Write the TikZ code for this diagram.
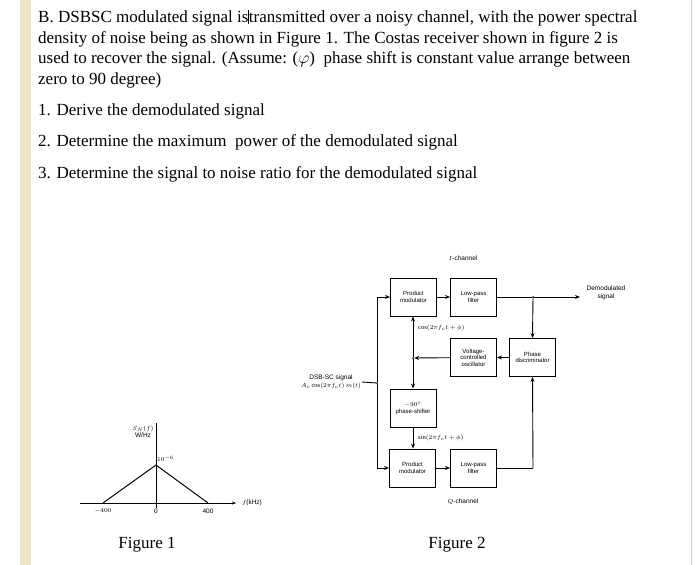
\documentclass[tikz,border=0pt]{standalone}
\usepackage{fontspec}
\setmainfont{Liberation Serif}
\newfontfamily\sfx{Liberation Sans}
\usetikzlibrary{arrows.meta}
\definecolor{beige}{RGB}{240,228,200}
\begin{document}
\begin{tikzpicture}[x=1pt,y=-1pt,
  txt/.style={anchor=west,inner sep=0,font=\fontsize{17}{19}\selectfont},
  blk/.style={draw,line width=0.9pt,minimum width=46pt,minimum height=38pt,align=center,inner sep=1pt,font=\sfx\fontsize{6}{6.5}\selectfont},
  sm/.style={inner sep=1pt,font=\sfx\fontsize{6.5}{7.5}\selectfont,align=center},
  ln/.style={line width=0.9pt},
  arr/.style={ln,-{Stealth[length=5pt,width=4pt]}},
  dot/.style={circle,fill,inner sep=0,minimum size=2pt}]
\useasboundingbox (0,0) rectangle (699,565);
\fill[white] (0,0) rectangle (699,565);
\fill[beige] (20,0) rectangle (31,565);
\draw[gray!40] (691,0) -- (691,565);
% text
\node[txt] (l1) at (38,18) {B. DSBSC modulated signal is\rule[-2pt]{0.6pt}{14pt}transmitted over a noisy channel, with the power spectral};
\node[txt] (l2) at (38,39) {density of noise being as shown in Figure 1. The Costas receiver shown in figure 2 is};
\node[txt] (l3) at (38,59) {used to recover the signal. (Assume: ($\varphi$) \ phase shift is constant value arrange between};
\node[txt] (l4) at (38,80) {zero to 90 degree)};
\node[txt] (q1) at (38,111) {1. Derive the demodulated signal};
\node[txt] (q2) at (38,142) {2. Determine the maximum \ power of the demodulated signal};
\node[txt] (q3) at (38,174) {3. Determine the signal to noise ratio for the demodulated signal};
% Figure 1
\coordinate (ax0) at (80,503);
\coordinate (axa) at (236,503);
\coordinate (ay0) at (156,508);
\coordinate (ay1) at (156,423);
\draw[line width=0.5pt,-{Stealth[length=4pt,width=3pt]}] (ax0) -- (axa);
\draw[line width=0.5pt] (ay0) -- (ay1);
\coordinate (pm) at (103,503); \coordinate (pk) at (156,465); \coordinate (pp) at (208,503);
\draw[line width=1pt] (pm) -- (pk) -- (pp);
\node[sm] (fk) at (252,503) {$f$(kHz)};
\node[sm] (sn) at (143,432) {$S_N(f)$\\W/Hz};
\node[sm,anchor=west] (pv) at (156,459) {$10^{-6}$};
\node[sm] (tm) at (103,511) {$-400$};
\node[sm] (t0) at (156,511) {0};
\node[sm] (tp) at (208,511) {400};
\node[txt,anchor=center] (f1) at (147,545) {Figure 1};
\node[txt,anchor=center] (f2) at (457,545) {Figure 2};
% Figure 2
\node[blk] (pm1) at (413.5,297) {Product\\modulator};
\node[blk] (lp1) at (473.5,297) {Low-pass\\filter};
\node[blk] (vco) at (473.5,357.5) {Voltage-\\controlled\\oscillator};
\node[blk] (pd) at (532.5,357.5) {Phase\\discriminator};
\node[blk] (ps) at (413,408) {$-90^\circ$\\phase-shifter};
\node[blk] (pm2) at (412.5,468) {Product\\modulator};
\node[blk] (lp2) at (473.5,468) {Low-pass\\filter};
\node[sm] (in) at (331,382) {DSB-SC signal\\$A_c\cos(2\pi f_c t)\,m(t)$};
\node[sm] (out) at (606,293) {Demodulated\\signal};
\node[sm] (ich) at (463,258) {$I$-channel};
\node[sm] (qch) at (463,502) {$Q$-channel};
\node[sm,anchor=west] (cl) at (417,328) {$\cos(2\pi f_c t+\phi)$};
\node[sm,anchor=west] (sl) at (417,438) {$\sin(2\pi f_c t+\phi)$};
\node[dot] (jin) at (377,383) {};
\node[dot] (jv) at (413,358) {};
\node[dot] (jo) at (533,297) {};
\coordinate (tl) at (377,297);
\coordinate (bl) at (377,468);
\coordinate (br) at (533,468);
\coordinate (oe) at (580,297);
\draw[ln] (in.east) -- (jin);
\draw[ln] (jin) -- (tl);
\draw[arr] (tl) -- (pm1.west);
\draw[ln] (jin) -- (bl);
\draw[arr] (bl) -- (pm2.west);
\draw[arr] (pm1) -- (lp1);
\draw[arr] (pm2) -- (lp2);
\draw[ln] (lp1) -- (jo);
\draw[arr] (jo) -- (oe);
\draw[arr] (jo) -- (pd.north);
\draw[ln] (lp2) -- (br);
\draw[arr] (br) -- (pd.south);
\draw[arr] (pd) -- (vco);
\draw[arr] (vco) -- (jv);
\draw[arr] (jv) -- (pm1.south -| jv);
\draw[arr] (jv) -- (ps.north -| jv);
\draw[arr] (ps.south -| jv) -- (pm2.north -| jv);
\end{tikzpicture}
\end{document}
